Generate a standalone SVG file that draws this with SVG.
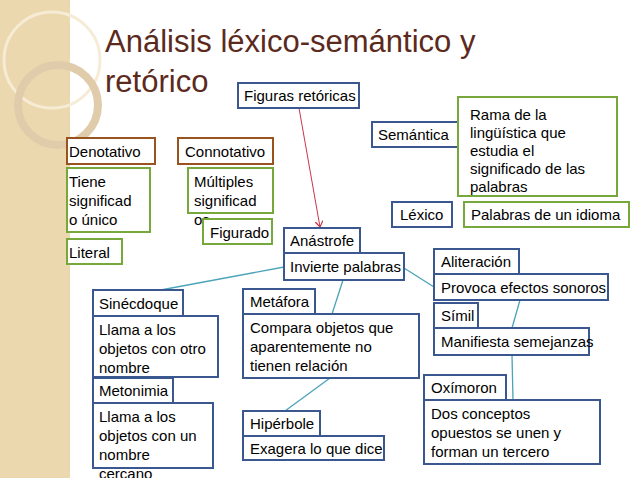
<svg xmlns="http://www.w3.org/2000/svg" width="638" height="478" viewBox="0 0 638 478">
<style>
text{font-family:"Liberation Sans",Arial,sans-serif;font-size:15px;fill:#000}
.t{font-size:31px;fill:#5c2a1c}
rect{fill:#fff;stroke-width:2}
.n{stroke:#3b5790}.g{stroke:#77a83c}.b{stroke:#98531f}
.c{stroke:#4aa3b8;stroke-width:1.3;fill:none}
</style>
<defs><marker id="ar" markerWidth="8" markerHeight="8" refX="6" refY="4" orient="auto"><path d="M0,0 L6,4 L0,8" fill="none" stroke="#c8374a" stroke-width="1.2"/></marker></defs>
<rect x="0" y="0" width="638" height="478" style="fill:#fff;stroke:none"/>
<rect x="0" y="0" width="70" height="478" style="fill:#ecd8ae;stroke:none"/>
<circle cx="52" cy="60" r="48" fill="none" stroke="#f6ecd6" stroke-width="3"/>
<circle cx="58" cy="105" r="40" fill="none" stroke="#e0ccaa" stroke-width="8"/>
<text class="t" x="105" y="52">Análisis léxico-semántico y</text>
<text class="t" x="105" y="92">retórico</text>
<g id="connectors">
<line x1="299" y1="108" x2="320" y2="227" stroke="#c8374a" stroke-width="1" marker-end="url(#ar)"/>
<line class="c" x1="284" y1="267" x2="150" y2="292"/>
<line class="c" x1="343" y1="280" x2="332" y2="314"/>
<line class="c" x1="404" y1="268" x2="434" y2="287"/>
<line class="c" x1="520" y1="300" x2="512" y2="328"/>
<line class="c" x1="512" y1="355" x2="513" y2="400"/>
<line class="c" x1="330" y1="378" x2="285" y2="411"/>
</g>
<g id="figuras"><rect class="n" x="238" y="83" width="121" height="25"/><text x="244" y="101">Figuras retóricas</text></g>
<g id="semantica"><rect class="n" x="372" y="122" width="86" height="25"/><text x="378" y="140">Semántica</text></g>
<g id="rama"><rect class="g" x="458" y="97" width="159" height="99"/><text x="470" y="120">Rama de la</text><text x="470" y="138">lingüística que</text><text x="470" y="156">estudia el</text><text x="470" y="174">significado de las</text><text x="470" y="192">palabras</text></g>
<g id="denotativo"><rect class="b" x="67" y="138" width="88" height="26"/><text x="69" y="157">Denotativo</text></g>
<g id="connotativo"><rect class="b" x="178" y="138" width="95" height="26"/><text x="185" y="157">Connotativo</text></g>
<g id="tiene"><rect class="g" x="67" y="168" width="83" height="64"/><text x="69" y="187">Tiene</text><text x="69" y="206">significad</text><text x="69" y="225">o único</text></g>
<g id="multiples"><rect class="g" x="188" y="168" width="85" height="45"/><text x="194" y="187">Múltiples</text><text x="194" y="206">significad</text><text x="194" y="225">os</text></g>
<g id="figurado"><rect class="g" x="203" y="219" width="69" height="25"/><text x="210" y="238">Figurado</text></g>
<g id="literal"><rect class="g" x="67" y="239" width="55" height="25"/><text x="69" y="258">Literal</text></g>
<g id="lexico"><rect class="n" x="392" y="202" width="60" height="25"/><text x="400" y="220">Léxico</text></g>
<g id="palabras"><rect class="g" x="464" y="202" width="165" height="25"/><text x="471" y="220">Palabras de un idioma</text></g>
<g id="anastrofe"><rect class="n" x="284" y="228" width="76" height="25"/><text x="290" y="246">Anástrofe</text><rect class="n" x="284" y="253" width="120" height="27"/><text x="290" y="272">Invierte palabras</text></g>
<g id="aliteracion"><rect class="n" x="434" y="249" width="85" height="25"/><text x="441" y="267">Aliteración</text><rect class="n" x="434" y="274" width="174" height="26"/><text x="441" y="293">Provoca efectos sonoros</text></g>
<g id="sinecdoque"><rect class="n" x="93" y="290" width="90" height="26"/><text x="99" y="309">Sinécdoque</text><rect class="n" x="93" y="316" width="125" height="61"/><text x="99" y="335">Llama a los</text><text x="99" y="354">objetos con otro</text><text x="99" y="373">nombre</text></g>
<g id="metafora"><rect class="n" x="243" y="289" width="72" height="25"/><text x="250" y="307">Metáfora</text><rect class="n" x="243" y="314" width="176" height="64"/><text x="250" y="333">Compara objetos que</text><text x="250" y="352">aparentemente no</text><text x="250" y="371">tienen relación</text></g>
<g id="simil"><rect class="n" x="434" y="303" width="44" height="25"/><text x="441" y="321">Símil</text><rect class="n" x="434" y="328" width="155" height="27"/><text x="441" y="347">Manifiesta semejanzas</text></g>
<g id="metonimia"><rect class="n" x="93" y="378" width="80" height="25"/><text x="99" y="396">Metonimia</text><rect class="n" x="93" y="403" width="120" height="65"/><text x="99" y="422">Llama a los</text><text x="99" y="441">objetos con un</text><text x="99" y="460">nombre</text><text x="99" y="479">cercano</text></g>
<g id="oximoron"><rect class="n" x="424" y="375" width="82" height="25"/><text x="431" y="393">Oxímoron</text><rect class="n" x="424" y="400" width="176" height="64"/><text x="431" y="419">Dos conceptos</text><text x="431" y="438">opuestos se unen y</text><text x="431" y="457">forman un tercero</text></g>
<g id="hiperbole"><rect class="n" x="243" y="411" width="77" height="25"/><text x="250" y="429">Hipérbole</text><rect class="n" x="243" y="436" width="141" height="24"/><text x="250" y="454">Exagera lo que dice</text></g>
</svg>
